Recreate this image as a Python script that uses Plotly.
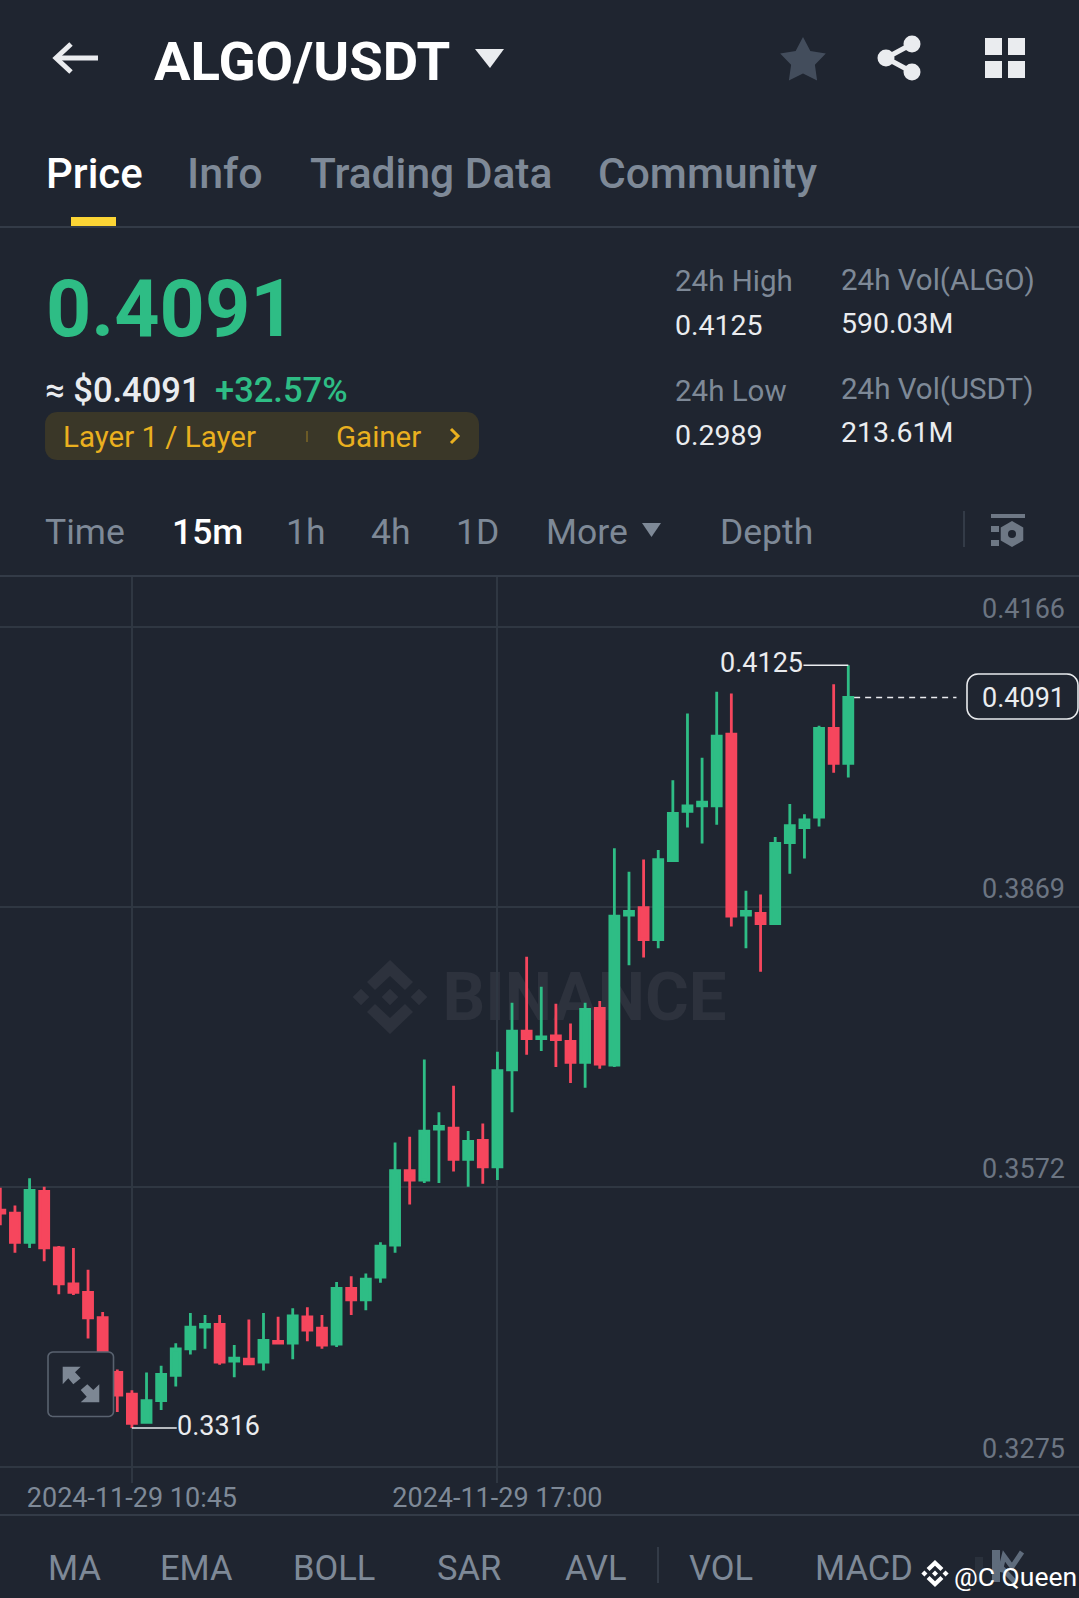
import math
import pandas as pd
import plotly.graph_objects as go

W, H = 1079, 1598
BG = "#1F2530"
GRID = "#2F3742"
GREEN = "#2EBD85"
RED = "#F6465D"
GRAY = "#7E8997"
DIM = "#6C7582"
WHITE = "#EAECEF"
FONT = "Roboto, sans-serif"

start_time = "2024-11-29 08:30"
opens = [.3547,.3544,.3513,.3567,.3507,.3469,.3460,.3433,.3375,.3352,
         .3322,.3345,.3372,.3400,.3423,.3426,.3387,.3389,.3386,.3408,
         .3406,.3434,.3422,.3405,.3464,.3452,.3476,.3510,.3589,.3579,
         .3633,.3634,.3601,.3621,.3593,.3696,.3737,.3729,.3732,.3726,
         .3704,.3761,.3701,.3860,.3868,.3834,.3918,.3970,.3976,.3976,
         .4052,.3860,.3862,.3851,.3937,.3953,.3964,.4058,.4021]
highs = [.3571,.3552,.3581,.3572,.3509,.3507,.3484,.3439,.3378,.3356,
         .3375,.3382,.3406,.3438,.3436,.3436,.3404,.3431,.3438,.3434,
         .3443,.3444,.3436,.3471,.3477,.3480,.3513,.3619,.3625,.3707,
         .3651,.3679,.3631,.3639,.3715,.3767,.3816,.3784,.3766,.3745,
         .3767,.3769,.3931,.3906,.3919,.3929,.4003,.4074,.4027,.4097,
         .4095,.3886,.3882,.3943,.3978,.3967,.4061,.4105,.4125]
lows = [.3531,.3502,.3507,.3493,.3458,.3457,.3411,.3363,.3333,.3316,
        .3322,.3335,.3360,.3394,.3400,.3383,.3370,.3384,.3377,.3405,
        .3389,.3408,.3400,.3402,.3436,.3441,.3470,.3502,.3553,.3576,
        .3576,.3588,.3572,.3575,.3579,.3651,.3712,.3716,.3699,.3682,
        .3677,.3697,.3699,.3807,.3815,.3825,.3918,.3953,.3936,.3956,
        .3848,.3825,.3800,.3851,.3904,.3920,.3954,.4011,.4006]
closes = [.3544,.3513,.3568,.3507,.3469,.3460,.3433,.3375,.3351,.3321,
          .3345,.3373,.3400,.3423,.3426,.3386,.3390,.3384,.3409,.3406,
          .3435,.3420,.3404,.3464,.3452,.3474,.3509,.3589,.3579,.3631,
          .3636,.3601,.3620,.3593,.3695,.3737,.3729,.3731,.3728,.3704,
          .3760,.3702,.3859,.3864,.3834,.3919,.3968,.3976,.3980,.4050,
          .3859,.3864,.3851,.3936,.3955,.3961,.4058,.4021,.4091]
price_ticks = [0.3275, 0.3572, 0.3869, 0.4166]
price_labels = ["0.3275", "0.3572", "0.3869", "0.4166"]
time_ticks = ["2024-11-29 10:45", "2024-11-29 17:00"]
time_labels = ["2024-11-29 10:45", "2024-11-29 17:00"]
high_label, low_label, last_label = 0.4125, 0.3316, 0.4091
high_time, low_time, last_time = "2024-11-29 23:00", "2024-11-29 10:45", "2024-11-29 23:00"

times = pd.date_range(start_time, periods=len(opens), freq="15min")


def X(x):
    return x / W


def Y(y):
    return 1 - y / H


def poly(points, close=True):
    s = "M" + " L".join(f"{X(a):.5f} {Y(b):.5f}" for a, b in points)
    return s + (" Z" if close else "")


def rrect(x0, y0, x1, y1, r):
    n = 6
    pts = []
    for cx, cy, a0 in ((x1 - r, y0 + r, -90), (x1 - r, y1 - r, 0), (x0 + r, y1 - r, 90), (x0 + r, y0 + r, 180)):
        for k in range(n + 1):
            a = math.radians(a0 + 90 * k / n)
            pts.append((cx + r * math.cos(a), cy + r * math.sin(a)))
    return poly(pts)


shapes = []


def fill(path, color, layer="above"):
    shapes.append(dict(type="path", xref="paper", yref="paper", path=path, fillcolor=color,
                       line=dict(width=0), layer=layer))


def stroke(path, color, width, fillcolor="rgba(0,0,0,0)", layer="above"):
    shapes.append(dict(type="path", xref="paper", yref="paper", path=path, fillcolor=fillcolor,
                       line=dict(color=color, width=width), layer=layer))


def rect(x0, y0, x1, y1, color, layer="above"):
    shapes.append(dict(type="rect", xref="paper", yref="paper", x0=X(x0), x1=X(x1), y0=Y(y0), y1=Y(y1),
                       fillcolor=color, line=dict(width=0), layer=layer))


def circle(cx, cy, r, color):
    shapes.append(dict(type="circle", xref="paper", yref="paper", x0=X(cx - r), x1=X(cx + r), y0=Y(cy + r),
                       y1=Y(cy - r), fillcolor=color, line=dict(width=0)))


def diamond(cx, cy, r):
    return [(cx, cy - r), (cx + r, cy), (cx, cy + r), (cx - r, cy)]


def logo(cx, cy, s, color, layer):
    for dx in (-29, 0, 29):
        fill(poly(diamond(cx + dx * s, cy, 8.3 * s)), color, layer)
    for sign in (-1, 1):
        fill(poly([(cx, cy + sign * 37 * s), (cx + 23 * s, cy + sign * 15 * s), (cx + 15 * s, cy + sign * 7 * s),
                   (cx, cy + sign * 21 * s), (cx - 15 * s, cy + sign * 7 * s), (cx - 23 * s, cy + sign * 15 * s)]),
             color, layer)


annotations = []


def txt(x, y, text, size, color, anchor="left", weight=400):
    annotations.append(dict(xref="paper", yref="paper", x=X(x - (2 if anchor == "left" else 0)), y=Y(y), text=text,
                            showarrow=False, xanchor=anchor, yanchor="middle", borderpad=0,
                            font=dict(family=FONT, size=size, color=color, weight=weight)))


# header
stroke(poly([(98, 58), (57, 58)], False), WHITE, 5)
stroke(poly([(71, 44), (56, 58), (71, 72)], False), WHITE, 5)
txt(155, 61, "ALGO/USDT", 54.5, "#FFFFFF", weight=700)
fill(poly([(475, 49), (504, 49), (490, 68)]), WHITE)
star = []
for k in range(10):
    a = math.radians(-90 + 36 * k)
    r = 24 if k % 2 == 0 else 12.5
    star.append((803 + r * math.cos(a), 61 + r * math.sin(a)))
fill(poly(star), "#434D5C")
stroke(poly([(912, 44), (886, 58), (912, 72)], False), WHITE, 5)
for cx, cy in ((912, 44), (886, 58), (912, 72)):
    circle(cx, cy, 8.5, WHITE)
for x0, x1 in ((985, 1002), (1008, 1025)):
    rect(x0, 38, x1, 55, WHITE)
    rect(x0, 61, x1, 78, WHITE)

# tabs
txt(47, 173, "Price", 42, "#FFFFFF", weight=500)
txt(188, 173, "Info", 43, GRAY, weight=500)
txt(311, 173, "Trading Data", 42.5, GRAY, weight=500)
txt(599, 173, "Community", 42.5, GRAY, weight=500)
rect(71, 217, 116, 226, "#FCD535")
rect(0, 226, W, 228, "#333B47")

# price block
txt(47, 309, "0.4091", 79, GREEN, weight=700)
txt(46, 390, "≈ $0.4091", 34.5, WHITE, weight=500)
txt(216, 390, "+32.57%", 34.5, GREEN, weight=500)
fill(rrect(45, 412, 479, 460, 12), "#3A3728")
txt(64, 437, "Layer 1 / Layer", 29.5, "#EAB01F")
rect(306, 431, 308, 442, "#6B5A26")
txt(337, 437, "Gainer", 29.5, "#EAB01F")
stroke(poly([(451, 429), (458, 436), (451, 443)], False), "#EAB01F", 3)
for x, y0, y1, a, b in ((676, 281, 325, "24h High", "0.4125"), (842, 280, 323, "24h Vol(ALGO)", "590.03M"),
                        (676, 391, 435, "24h Low", "0.2989"), (842, 389, 433, "24h Vol(USDT)", "213.61M")):
    txt(x, y0, a, 29.5, GRAY)
    txt(x, y1, b, 28.5, WHITE)

# interval row
for x, label, color, w in ((46, "Time", GRAY, 400), (173, "15m", "#FFFFFF", 500), (287, "1h", GRAY, 400),
                           (372, "4h", GRAY, 400), (457, "1D", GRAY, 400), (547, "More", GRAY, 400),
                           (721, "Depth", GRAY, 400)):
    txt(x, 532, label, 35.5, color, weight=w)
fill(poly([(642, 523), (661, 523), (651.5, 537)]), GRAY)
rect(963, 511, 965, 547, "#333B47")
ICON = "#6E7885"
rect(991, 514, 1025, 518, ICON)
rect(991, 526, 999, 532, ICON)
rect(991, 540, 999, 546, ICON)
fill(poly([(1012 + 13 * math.cos(math.radians(30 + 60 * k)), 534 + 13 * math.sin(math.radians(30 + 60 * k)))
           for k in range(6)]), ICON)
circle(1012, 534, 4, BG)
rect(0, 575, W, 577, "#333B47")

# watermark, under the candles
WM = "#2D323D"
logo(390, 997, 1.0, WM, "below")
shapes.append(dict(type="rect", xref="paper", yref="paper", x0=X(443), x1=X(726), y0=Y(1014), y1=Y(969),
                   fillcolor="rgba(0,0,0,0)", line=dict(width=0), layer="below",
                   label=dict(text="BINANCE", textposition="middle center",
                              font=dict(family=FONT, size=67, color=WM, weight=700))))

# chart marks built on the data scales
annotations.append(dict(xref="x", yref="y", x=low_time, y=low_label, text="0.3316", showarrow=False,
                        xanchor="left", yanchor="middle", xshift=43, yshift=2,
                        font=dict(family=FONT, size=27, color=WHITE)))
annotations.append(dict(xref="x", yref="y", x=high_time, y=high_label, text="0.4125", showarrow=False,
                        xanchor="right", yanchor="middle", xshift=-43.5, yshift=2,
                        font=dict(family=FONT, size=27, color=WHITE)))
shapes.append(dict(type="line", xref="x", yref="y", x0="2024-11-29 10:45", x1="2024-11-29 11:31",
                   y0=low_label, y1=low_label, line=dict(color=WHITE, width=1.5)))
shapes.append(dict(type="line", xref="x", yref="y", x0="2024-11-29 22:14", x1=high_time,
                   y0=high_label, y1=high_label, line=dict(color=WHITE, width=1.5)))
shapes.append(dict(type="line", xref="x", yref="y", x0="2024-11-29 23:06", x1="2024-11-30 00:51",
                   y0=last_label, y1=last_label, line=dict(color=WHITE, width=1.5, dash="6px,5px")))
stroke(rrect(967, 674, 1078, 719, 11), "#E8EAED", 1.6, BG)
txt(1023, 698, "0.4091", 27, WHITE, "center")

# expand button
stroke(rrect(48, 1352, 113.5, 1416.5, 5), "#59626F", 1.6, BG)
ARW = "#7D8794"
fill(poly([(62.7, 1366.7), (80.7, 1366.7), (75, 1372.3), (80.7, 1378.3), (73.3, 1384.3), (68.3, 1378.3),
           (62.7, 1384.3)]), ARW)
fill(poly([(99.3, 1402.3), (80.7, 1402.3), (86.7, 1396.7), (80.7, 1390), (87.3, 1384.3), (93.3, 1390),
           (99.3, 1384.3)]), ARW)

# bottom menu
rect(0, 1514, W, 1516, "#333B47")
for x, label in ((49, "MA"), (161, "EMA"), (294, "BOLL"), (438, "SAR"), (566, "AVL"), (690, "VOL"), (816, "MACD")):
    txt(x, 1568, label, 34.5, GRAY)
rect(657, 1547, 659, 1583, "#333B47")
rect(975, 1557, 983, 1582, "#2A313C")
rect(992, 1550, 1000, 1582, "#5F6C7C")
stroke(poly([(1000, 1572), (1004, 1556), (1012, 1567), (1022, 1552)], False), "#5F6C7C", 5)
stroke(poly([(1000, 1566), (1015, 1582)], False), "#5F6C7C", 5)
logo(935, 1573.5, 0.365, "#FFFFFF", "above")
txt(955, 1576, "@C Queen", 26.5, "#FFFFFF")

fig = go.Figure(go.Candlestick(
    x=times, open=opens, high=highs, low=lows, close=closes, whiskerwidth=0,
    increasing=dict(line=dict(color=GREEN, width=2.8), fillcolor=GREEN),
    decreasing=dict(line=dict(color=RED, width=2.8), fillcolor=RED),
    hoverinfo="skip", showlegend=False))

fig.update_layout(
    width=W, height=H, margin=dict(l=0, r=0, t=0, b=0), autosize=False,
    paper_bgcolor=BG, plot_bgcolor=BG, showlegend=False, boxgap=0.12,
    shapes=shapes, annotations=annotations, font=dict(family=FONT),
    xaxis=dict(type="date", range=["2024-11-29 08:29:40", "2024-11-30 02:56:42"], domain=[0, 1],
               rangeslider=dict(visible=False), tickmode="array", tickvals=time_ticks, ticktext=time_labels,
               showgrid=True, gridcolor=GRID, gridwidth=1.5, zeroline=False, showline=False, ticks="",
               tickfont=dict(family=FONT, size=27, color=GRAY), ticklabelstandoff=-4, fixedrange=True),
    yaxis=dict(range=[0.32577, 0.42187], domain=[1 - 1483 / H, 1 - 577 / H], side="right",
               tickmode="array", tickvals=price_ticks, ticktext=price_labels, ticklabelposition="inside top",
               showgrid=True, gridcolor=GRID, gridwidth=1.5, zeroline=False, showline=False, ticks="",
               tickfont=dict(family=FONT, size=27, color=DIM), ticklabelstandoff=11, ticklabelshift=1,
               fixedrange=True),
)

fig.write_html("out.html", config=dict(displayModeBar=False),
               post_script="document.body.style.margin='0';document.documentElement.style.overflow='hidden';document.documentElement.style.background='" + BG + "';")
